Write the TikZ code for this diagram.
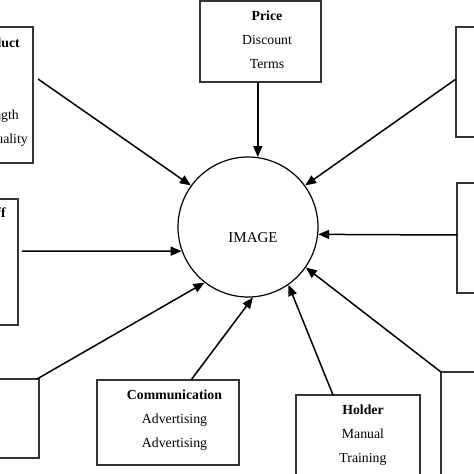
\documentclass[tikz,border=0pt]{standalone}
\usepackage{fontspec}
\setmainfont{Liberation Serif}
\usetikzlibrary{arrows.meta}
\begin{document}
\begin{tikzpicture}[x=1pt,y=-1pt,
  box/.style={draw=black!80, line width=1.3pt, inner sep=0pt, outer sep=0pt, rectangle},
  txt/.style={font=\fontsize{13.8}{24}\selectfont, align=center, inner sep=0pt},
  conn/.style={line width=1.5pt, -{Triangle[length=11pt,width=9pt]}},
  ring/.style={circle, draw, line width=1.2pt, minimum size=140pt, inner sep=0pt}]
\fill[white] (0,0) rectangle (474,474);
\useasboundingbox (0,0) rectangle (474,474);
% circle
\node[ring] (c) at (248,227) {};
\node[font=\fontsize{15}{18}\selectfont, inner sep=0pt] (imagetxt) at (253,238) {IMAGE};
% boxes
\node[box, minimum width=121pt, minimum height=81pt] (price) at (260.5,41.5) {};
\node[box, minimum width=133pt, minimum height=136pt] (product) at (-33.5,95) {};
\node[box, minimum width=104pt, minimum height=110pt] (tr) at (508,82) {};
\node[box, minimum width=118pt, minimum height=126pt] (lm) at (-41,262) {};
\node[box, minimum width=103pt, minimum height=110pt] (rm) at (508.5,238) {};
\node[box, minimum width=139pt, minimum height=79pt] (bl) at (-30.5,418.5) {};
\node[box, minimum width=142pt, minimum height=85pt] (comm) at (168,422.5) {};
\node[box, minimum width=124pt, minimum height=145pt] (holder) at (358,467.5) {};
\node[box, minimum width=119pt, minimum height=188pt] (br) at (500.5,466) {};
% texts
\node[txt] (pricet) at (267,40) {\textbf{Price}\\Discount\\Terms};
\node[txt] (commt) at (174.5,420) {\textbf{Communication}\\Advertising\\Advertising};
\node[txt] (holdert) at (363,435) {\textbf{Holder}\\Manual\\Training};
\node[txt, align=right, anchor=east] (productt) at (28,92.5) {\textbf{Product}\hspace*{8pt}\null\\\strut\\\strut\\Strength\hspace*{9pt}\null\\Quality};
\node[txt, anchor=east] (lmt) at (6,213) {\textbf{Staff}};
% connectors
\draw[conn] (c.82.6 |- price.south) -- (c.82.6);
\draw[conn] ([xshift=5pt,yshift=16pt]product.east) -- (c.144);
\draw[conn] ([yshift=3pt]tr.west) -- (c.36.4);
\draw[conn] ([xshift=4pt,yshift=11pt]lm.east) -- (c.200);
\draw[conn] ([yshift=3pt]rm.west) -- (c.-6.6);
\draw[conn] ([xshift=-2pt]bl.north east) -- (c.232);
\draw[conn] ([xshift=23pt]comm.north) -- (c.-86);
\draw[conn] ([xshift=-25pt]holder.north) -- (c.-55);
\draw[conn] (br.north west) -- (c.-35);
\end{tikzpicture}
\end{document}
